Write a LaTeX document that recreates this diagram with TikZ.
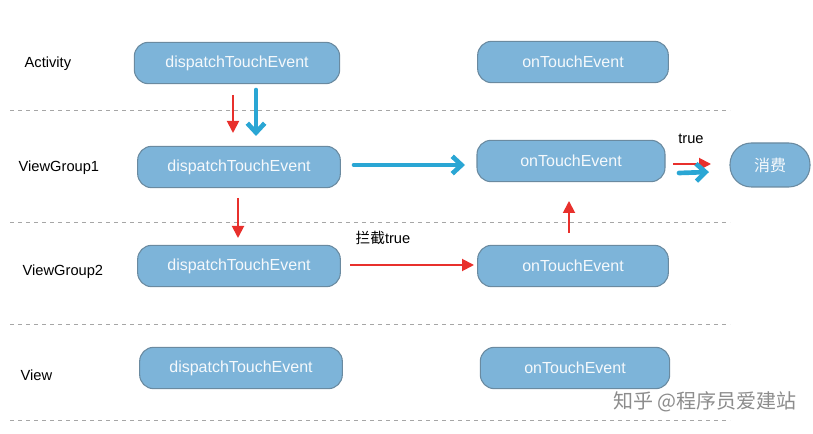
\documentclass[tikz,border=0pt]{standalone}
\usepackage{fontspec}
\setmainfont{Liberation Sans}
\newfontfamily\cjk{Noto Sans CJK SC}
\usetikzlibrary{arrows.meta}
\definecolor{boxfill}{HTML}{7DB4D9}
\definecolor{boxline}{HTML}{6A8AA0}
\definecolor{bluearr}{HTML}{2AA6D4}
\definecolor{redarr}{HTML}{E8302C}
\begin{document}
\begin{tikzpicture}[x=0.75pt,y=-0.75pt,
  ev/.style={draw=boxline,line width=0.8pt,fill=boxfill,rounded corners=10.5pt,minimum height=31pt,text=white!92!boxfill,font=\fontsize{12}{14}\selectfont,inner sep=0pt},
  sep/.style={draw=gray!70,dashed,line width=0.6pt},
  lab/.style={font=\fontsize{11}{13}\selectfont,anchor=west},
  rarr/.style={draw=redarr,line width=1.4pt,-{Triangle[length=9pt,width=9pt]}},
  barr/.style={draw=bluearr,line width=3.5pt,line cap=round,-{Straight Barb[length=7pt,width=13pt]}}]
\useasboundingbox (0,0) rectangle (813,434);
\foreach \y in {110,222,324,420} \draw[sep] (10,\y) -- (730,\y);
\node[lab] (la) at (20,64) {Activity};
\node[lab] (l1) at (14,168) {ViewGroup1};
\node[lab] (l2) at (18,272) {ViewGroup2};
\node[lab] (lv) at (16,375) {View};
\node[ev,minimum width=154pt] (ad) at (237,63) {dispatchTouchEvent};
\node[ev,minimum width=143pt] (ao) at (573,62) {onTouchEvent};
\node[ev,minimum width=152pt] (d1) at (239,167) {dispatchTouchEvent};
\node[ev,minimum width=141pt] (o1) at (571,161) {onTouchEvent};
\node[ev,minimum width=60pt,rounded corners=16pt,minimum height=33pt] (xf) at (770,165) {\cjk 消费};
\node[ev,minimum width=152pt] (d2) at (239,266) {dispatchTouchEvent};
\node[ev,minimum width=143pt] (o2) at (573,266) {onTouchEvent};
\node[ev,minimum width=152pt] (dv) at (241,368) {dispatchTouchEvent};
\node[ev,minimum width=142pt] (ov) at (575,368) {onTouchEvent};
\coordinate (ar1) at (233,95); \coordinate (ar2) at (233,133);
\draw[rarr] (ar1) -- (ar2);
\coordinate (ab1) at (256,90); \coordinate (ab2) at (256,136);
\draw[barr] (ab1) -- (ab2);
\coordinate (r1) at (238,198); \coordinate (r2) at (238,238);
\draw[rarr] (r1) -- (r2);
\coordinate (h1) at (350,265); \coordinate (h2) at (474,265);
\draw[rarr] (h1) -- (h2);
\node[font=\fontsize{11}{13}\selectfont] (lt) at (383,238) {\cjk 拦截\rmfamily true};
\coordinate (u1) at (569,233); \coordinate (u2) at (569,201);
\draw[rarr] (u1) -- (u2);
\coordinate (c1) at (354,165); \coordinate (c2) at (465,165);
\draw[barr] (c1) -- (c2);
\node[font=\fontsize{11}{13}\selectfont] (tr) at (691,139) {true};
\coordinate (t1) at (673,164); \coordinate (t2) at (711,164);
\draw[rarr] (t1) -- (t2);
\coordinate (b1) at (679,173); \coordinate (b2) at (709,172);
\draw[barr] (b1) -- (b2);
\node[text=gray!90,font=\cjk\fontsize{15}{18}\selectfont] (wm) at (705,402) {知乎 @程序员爱建站};
\end{tikzpicture}
\end{document}
